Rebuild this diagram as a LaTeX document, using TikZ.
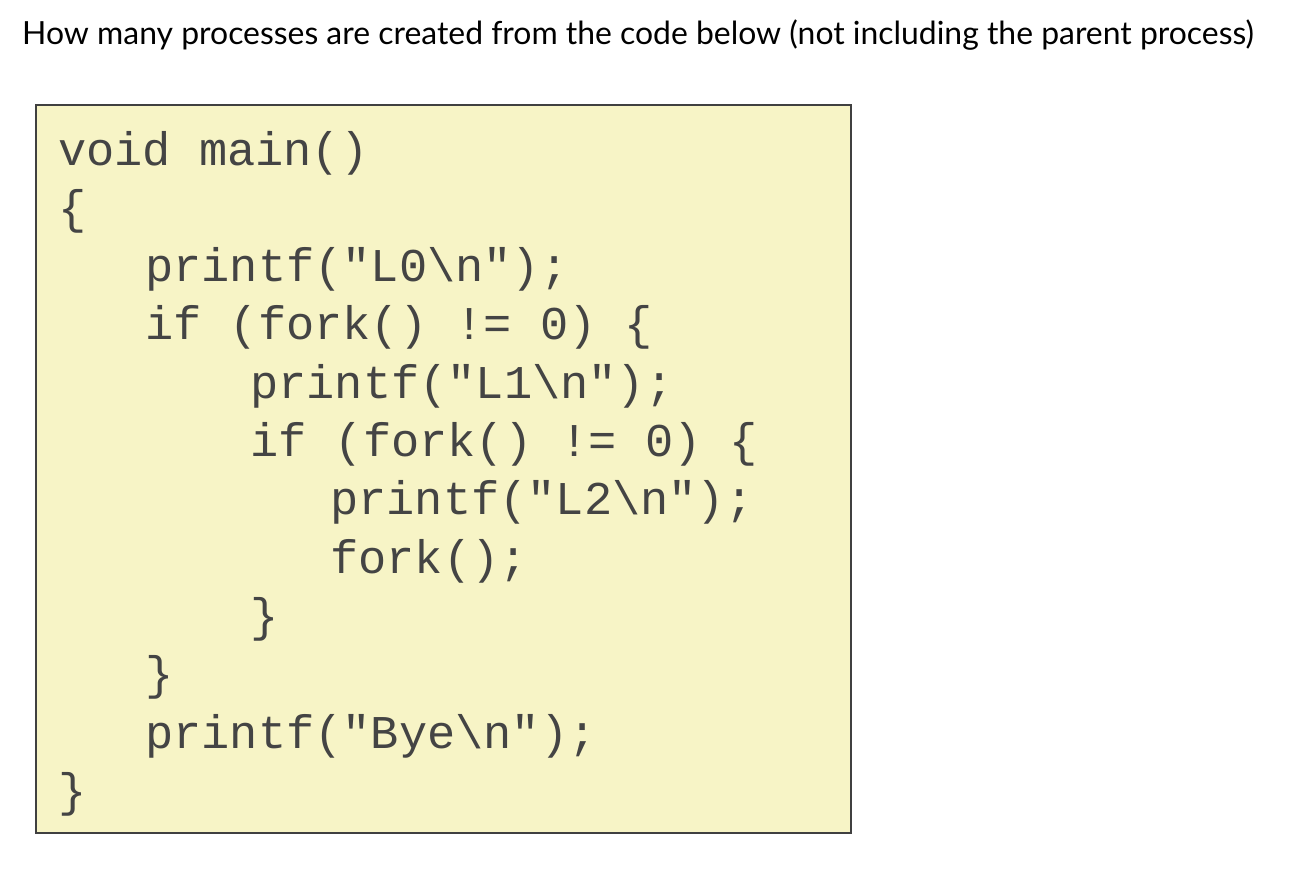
\documentclass[tikz,border=0pt]{standalone}
\usepackage{fontspec}
\setmainfont{Lato}
\newfontfamily\codefont{Liberation Mono}
\definecolor{boxfill}{HTML}{F7F4C6}
\definecolor{codecol}{HTML}{444444}
\begin{document}
\begin{tikzpicture}[x=1pt,y=-1pt,
  codeline/.style={anchor=base west,inner sep=0pt,font=\codefont\fontsize{47}{50}\selectfont,text=codecol}]
\useasboundingbox (0,0) rectangle (1304,880);
\node[anchor=base west,inner sep=0pt,font=\fontsize{31.9}{35}\selectfont] (title) at (22,45) {How many processes are created from the code below (not including the parent process)};
\draw[fill=boxfill,draw=black!75,line width=2pt] (36,105) rectangle (851,833);
\node[codeline] (l1) at (58,165) {void main()};
\node[codeline] (l2) at (58,223.3) {\{};
\node[codeline] (l3) at (145,281.6) {printf("L0\textbackslash n");};
\node[codeline] (l4) at (145,339.9) {if (fork() != 0) \{};
\node[codeline] (l5) at (250,398.2) {printf("L1\textbackslash n");};
\node[codeline] (l6) at (250,456.5) {if (fork() != 0) \{};
\node[codeline] (l7) at (330,514.8) {printf("L2\textbackslash n");};
\node[codeline] (l8) at (330,573.1) {fork();};
\node[codeline] (l9) at (250,631.4) {\}};
\node[codeline] (l10) at (145,689.7) {\}};
\node[codeline] (l11) at (145,748) {printf("Bye\textbackslash n");};
\node[codeline] (l12) at (58,806.3) {\}};
\end{tikzpicture}
\end{document}
